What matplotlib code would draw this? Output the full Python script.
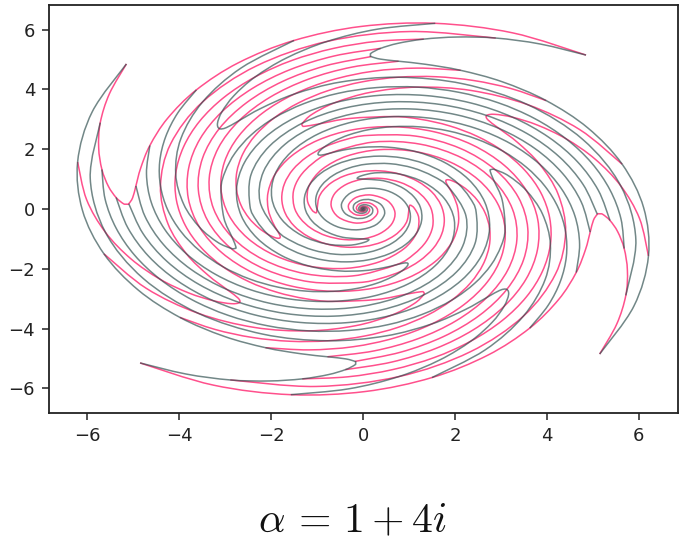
import numpy as np
import matplotlib
matplotlib.use("Agg")
import matplotlib.pyplot as plt
from matplotlib.path import Path
from matplotlib.patches import PathPatch

# radius and angle (degrees) read along one curve of each family
r0 = [5, 4.75, 4.5, 4.25, 4, 3.75, 3.5, 3.25, 3, 2.75, 2.5, 2.25, 2, 1.875, 1.75, 1.625, 1.5, 1.4, 1.3, 1.2, 1.1, 1, 0.9,
      0.8, 0.7, 0.6, 0.5, 0.42, 0.35, 0.3, 0.25, 0.21, 0.18, 0.15, 0.125, 0.1, 0.085, 0.07, 0.06, 0.05, 0.04, 0.03, 0.02,
      0.01]
a0 = [-368.9, -357.1, -344.7, -331.6, -317.7, -302.9, -287.1, -270.1, -251.8, -231.9, -210.0, -185.9, -158.8, -144.1,
      -128.3, -111.3, -92.9, -77.1, -60.1, -41.8, -21.8, 0, 24.1, 51.1, 81.7, 117.1, 158.8, 198.8, 240.6, 275.9, 317.7,
      357.7, 393.0, 434.8, 476.6, 527.7, 565.0, 609.4, 644.7, 686.5, 737.7, 803.7, 896.5, 1055.4]

r1 = [5.099, 4.854, 4.610, 4.366, 4.123, 3.881, 3.640, 3.400, 3.162, 2.926, 2.693, 2.462, 2.349, 2.236, 2.125, 2.016, 1.908,
      1.803, 1.700, 1.601, 1.505, 1.414, 1.329, 1.25, 1.179, 1.118, 1.068, 1.031, 1, 1.031, 1.118, 1.25, 1.414, 1.601,
      1.803, 2.016, 2.236, 2.462, 2.693, 2.926, 3.162, 3.400, 3.640, 3.881, 4.123, 4.366, 4.610, 4.854, 5.099]
a1 = [-362.0, -350.2, -337.7, -324.6, -310.7, -295.9, -280.2, -263.4, -245.5, -226.0, -205.2, -182.5, -170.5, -157.8,
      -144.7, -130.9, -116.5, -101.4, -85.6, -69.1, -52.1, -34.4, -16.4, 2.0, 20.2, 37.8, 54.3, 69.1, 90, 97.1, 91.0, 75.8,
      55.6, 33.5, 11.2, -10.3, -31.0, -50.5, -68.8, -86.0, -102.3, -117.6, -132.0, -145.7, -158.7, -171.0, -182.7, -194.0,
      -204.6]

r2 = [5.385, 5.154, 4.924, 4.697, 4.472, 4.25, 4.031, 3.816, 3.606, 3.400, 3.202, 3.010, 2.828, 2.658, 2.5, 2.358, 2.236,
      2.136, 2.062, 2.016, 2, 2.016, 2.062, 2.136, 2.236, 2.358, 2.5, 2.658, 2.828, 3.010, 3.202, 3.400, 3.606, 3.816,
      4.031, 4.25, 4.472, 4.697, 4.924, 5.154, 5.385]
a2 = [-364.1, -353.0, -341.3, -329.3, -316.7, -303.5, -289.8, -275.3, -260.2, -244.5, -228.0, -211.0, -193.3, -175.2,
      -156.9, -138.6, -121.0, -104.5, -89.8, -77.7, -68.8, -63.5, -61.8, -63.3, -67.8, -74.6, -83.1, -92.8, -103.3, -114.2,
      -125.4, -136.5, -147.6, -158.5, -169.2, -179.7, -189.9, -199.7, -209.3, -218.6, -227.7]

r3 = [5.831, 5.618, 5.408, 5.202, 5, 4.802, 4.610, 4.423, 4.243, 4.070, 3.905, 3.75, 3.606, 3.473, 3.354, 3.25, 3.162, 3.041,
      3, 3.041, 3.092, 3.162, 3.354, 3.606, 3.905, 4.243, 4.610, 5, 5.408, 5.831]
a3 = [-373.1, -363.3, -353.2, -342.7, -332.0, -320.9, -309.6, -298.1, -286.2, -274.2, -262.0, -249.9, -237.6, -225.6,
      -213.9, -202.7, -192.3, -174.4, -161.8, -155.4, -154.7, -155.5, -160.7, -170.2, -182.4, -196.2, -210.8, -225.8,
      -240.6, -255.1]

r4 = [6.403, 6.021, 5.657, 5.315, 5, 4.717, 4.472, 4.272, 4.123, 4.031, 4, 4.031, 4.123, 4.272, 4.472, 4.717, 5, 5.315,
      5.657, 6.021, 6.403]
a4 = [-386.8, -369.8, -352.1, -334.1, -315.8, -297.5, -279.9, -263.4, -248.7, -236.6, -227.7, -222.4, -220.7, -222.2,
      -226.7, -233.5, -242.0, -251.7, -262.1, -273.0, -284.2]

r5 = [7.071, 6.727, 6.403, 6.103, 5.831, 5.590, 5.385, 5.220, 5.099, 5.025, 5, 5.025, 5.099, 5.154, 5.220, 5.385, 5.590,
      5.831, 6.103, 6.403, 6.727, 7.071]
a5 = [-403.3, -388.9, -374.2, -359.6, -345.1, -331.0, -317.7, -305.4, -294.6, -285.7, -278.9, -274.3, -272.0, -271.8,
      -272.0, -274.1, -277.8, -283.1, -289.6, -296.8, -304.9, -313.3]

radii = [r0, r1, r2, r3, r4, r5]
angles = [a0, a1, a2, a3, a4, a5]

xticks = [-6, -4, -2, 0, 2, 4, 6]
yticks = [-6, -4, -2, 0, 2, 4, 6]


def smooth_path(x, y):
    # bezier pieces through the read points, so the line has no corners
    p = np.column_stack([x, y])
    q = np.vstack([p[0], p, p[-1]])
    verts = [p[0]]
    for i in range(len(p) - 1):
        verts.append(q[i + 1] + (q[i + 2] - q[i]) / 6)
        verts.append(q[i + 2] - (q[i + 3] - q[i + 1]) / 6)
        verts.append(q[i + 2])
    codes = [Path.MOVETO] + [Path.CURVE4] * (len(verts) - 1)
    return Path(verts, codes)


def draw_family(ax, turns, color, alpha, z):
    for r, a in zip(radii, angles):
        for t in turns:
            phi = np.radians(np.array(a) + t)
            x = np.array(r) * np.cos(phi)
            y = np.array(r) * np.sin(phi)
            ax.add_patch(PathPatch(smooth_path(x, y), fill=False, ec=color, lw=1.1, alpha=alpha, zorder=z))


plt.rcParams["mathtext.fontset"] = "cm"

fig = plt.figure(figsize=(6.85, 5.42), dpi=100)
ax = fig.add_axes([49 / 685, 129 / 542, 629 / 685, 408 / 542])

draw_family(ax, [90, 270], "#ff3d80", 0.9, 2)
draw_family(ax, [0, 180], "#2f4f4f", 0.68, 3)

ax.set_xlim(-6.83, 6.85)
ax.set_ylim(-6.82, 6.82)
ax.set_xticks(xticks)
ax.set_yticks(yticks)
ax.tick_params(labelsize=13, length=5, width=1.1, color="#222222", labelcolor="#222222", pad=5)
for s in ax.spines.values():
    s.set_linewidth(1.3)
    s.set_color("#222222")

fig.text(352 / 685, 0.018, r"$\alpha\,=\,1+4i$", fontsize=30, ha="center", va="baseline", color="#111111")

fig.savefig("out.png", dpi=100)
